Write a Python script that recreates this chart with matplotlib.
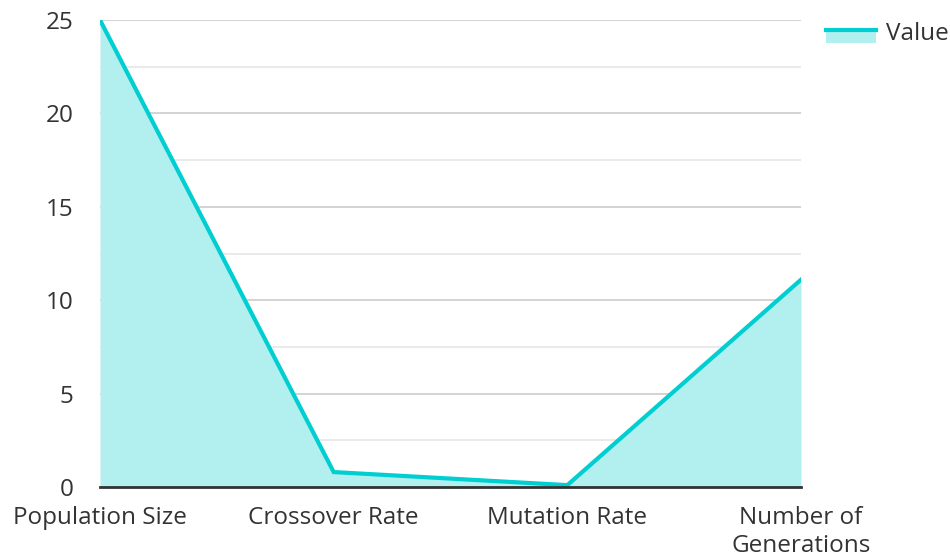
import matplotlib
matplotlib.use("Agg")
import matplotlib.pyplot as plt
from matplotlib.legend_handler import HandlerBase
from matplotlib.patches import Rectangle
from matplotlib.lines import Line2D

plt.rcParams['font.family'] = ['Open Sans', 'DejaVu Sans']

# data
categories = ["Population Size", "Crossover Rate", "Mutation Rate", "Number of\nGenerations"]
values = [25, 0.8, 0.1, 11.1]
y_ticks = [0, 5, 10, 15, 20, 25]

line_color = "#00CED1"
fill_color = "#B2EFEF"
text_color = "#333333"


class AreaHandler(HandlerBase):
    # line on top of a filled box, like the reference legend
    def create_artists(self, legend, orig_handle, xdescent, ydescent,
                       width, height, fontsize, trans):
        rect = Rectangle((-xdescent, -ydescent - 0.15 * height), width, height * 0.8,
                         facecolor=fill_color, edgecolor="none", transform=trans)
        ln = Line2D([-xdescent, -xdescent + width], [-ydescent + 0.56 * height] * 2,
                    color=line_color, lw=3, transform=trans)
        return [rect, ln]


fig = plt.figure(figsize=(9.5, 5.59), dpi=100)
ax = fig.add_axes([100 / 950, 1 - 487 / 559, 701 / 950, 467 / 559])

x = list(range(len(categories)))
ax.fill_between(x, values, 0, color=fill_color, lw=0, zorder=1)
ax.plot(x, values, color=line_color, lw=3, zorder=3, solid_joinstyle="miter")

ax.set_xlim(0, len(categories) - 1)
ax.set_ylim(0, 25)
ax.set_yticks(y_ticks)
ax.set_yticks([2.5, 7.5, 12.5, 17.5, 22.5], minor=True)
ax.grid(axis="y", which="major", color="#cccccc", lw=1.2, zorder=0)
ax.grid(axis="y", which="minor", color="#e6e6e6", lw=1.2, zorder=0)
ax.set_axisbelow(True)

for s in ["top", "right", "left"]:
    ax.spines[s].set_visible(False)
ax.spines["bottom"].set_color(text_color)
ax.spines["bottom"].set_linewidth(2)
ax.spines["bottom"].set_zorder(4)

ax.set_xticks(x)
ax.set_xticklabels(categories, fontsize=17.5, color=text_color, linespacing=1.25)
ax.tick_params(axis="x", length=0, pad=13.5)
ax.tick_params(axis="y", which="both", length=0, pad=19, labelsize=17.5, labelcolor=text_color)

ax.legend([object()], ["Value"], handler_map={object: AreaHandler()},
          loc="upper left", bbox_to_anchor=(826 / 950, 1 - 22 / 559),
          bbox_transform=fig.transFigure, frameon=False, fontsize=17.5,
          handlelength=2.05, handletextpad=0.4, borderaxespad=0, borderpad=0,
          labelcolor=text_color)

fig.savefig("out.png", dpi=100)
